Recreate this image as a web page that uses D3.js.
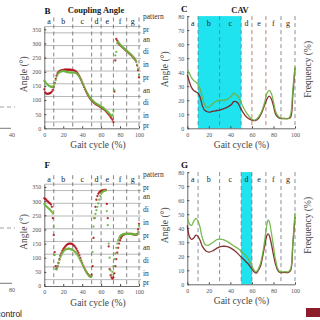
<!DOCTYPE html>
<html>
<head>
<meta charset="utf-8">
<script src="https://cdn.jsdelivr.net/npm/d3@7"></script>
<style>
  body { margin: 0; background: #fff; }
  svg text { font-family: "Liberation Serif", "DejaVu Serif", serif; }
</style>
</head>
<body>
<svg id="fig" width="320" height="320"></svg>
<script>
// gait phases and coupling-pattern bins
const phases = ["a", "b", "c", "d", "e", "f", "g"];
const phaseBounds = [0, 10, 30, 50, 60, 73, 87, 100];
const patternNames = ["pr", "in", "di", "an", "pr", "in", "di", "an", "pr"];
const patternBounds = [0, 22.5, 67.5, 112.5, 157.5, 202.5, 247.5, 292.5, 337.5, 360];
const gaitTicks = [0, 20, 40, 60, 80, 100];
const caTicks = [0, 50, 100, 150, 200, 250, 300, 350];
const cavTicks = [0, 10, 20, 30, 40, 50, 60, 70, 80];

// coupling angle, 0..100 % gait in 1 % steps
const caTopRed = [138,126,123,122,122,123,124,126,130,136,146,160,175,187,195,199,202,204,205,206,206,
  207,207,207,207,207,207,207,207,206,206,205,204,202,199,195,190,184,177,170,162,
  154,146,138,131,124,118,112,107,102,98,95,92,89,86,84,82,80,78,76,74,
  72,70,67,64,61,57,53,49,45,40,35,30,22,130,240,316,310,303,298,294,
  291,288,285,282,279,276,273,270,267,264,261,258,254,250,246,242,236,222,205,180];
const caTopGreen = [168,165,160,156,153,150,148,147,146,147,150,158,170,182,190,195,198,200,201,202,202,
  202,201,200,199,198,198,197,197,197,197,197,197,196,194,191,187,182,176,169,162,
  155,148,141,134,127,121,115,110,105,101,98,95,92,89,87,85,83,81,79,77,
  75,73,70,67,64,61,58,55,51,47,43,48,62,135,258,270,300,306,301,296,
  292,289,286,283,280,277,274,271,268,265,262,259,255,251,247,242,236,225,210,190];
const caBotRed = [310,308,305,301,298,295,292,288,280,240,180,120,70,62,70,82,95,107,116,124,130,
  135,139,143,146,148,150,150,150,149,147,144,141,136,131,124,117,108,99,90,81,
  72,65,58,52,47,42,38,35,33,40,70,170,240,280,305,318,326,331,334,336,
  337,338,339,340,340,290,240,140,60,38,30,26,30,45,70,95,118,135,150,162,
  170,176,180,182,183,184,184,184,184,184,184,184,183,183,182,181,181,183,200,220];
const caBotGreen = [290,285,282,279,276,273,270,266,262,256,210,110,60,58,68,80,92,102,110,116,121,
  125,128,130,131,132,132,131,130,129,127,125,122,119,115,110,104,97,91,85,78,
  71,64,58,52,47,42,38,34,32,35,120,210,240,255,268,280,292,305,318,326,
  331,334,336,337,338,265,215,150,100,55,40,50,70,95,115,135,150,162,170,176,
  179,181,183,184,184,184,184,184,184,184,184,184,184,183,183,182,182,182,190,215];

// CAV, degrees
const cavTopX = [0,2,4,6,8,10,12,14,16,18,20,23,26,30,34,38,41,43,45,47,49,52,55,58,61,63,66,69,72,74,76,78,80,82,84,86,90,94,96,98,100];
const cavTopGreen = [42,39,36,34,33,31,28,22,17,15,15,17,19,20,20,21,23,25,24,23,20,15,11,8,6,6,8,12,19,25,27,25,19,12,9,7.5,7,7,10,28,44];
const cavTopRed = [38,33,29,27,26,25,22,16,13,12,11.5,12,12.5,13,14,15.5,17,19,19,18,15,11,8,6.5,5.5,5.5,7,11,17,21,23,21,16,10,8,7,7,7,8,24,43];
const cavBotX = [0,2,4,6,8,10,12,14,17,20,24,28,32,36,40,44,48,52,56,58,60,62,64,66,68,70,72,74,75,76,78,80,82,84,86,90,94,96,98,100];
const cavBotGreen = [48,43,42,45,47,45,40,33,28,28,30,32,32,31,29,27,25,22,19,16,13,10,9,11,15,22,32,43,46,45,37,27,17,11,9,9,9,11,30,51];
const cavBotRed = [42,34,32,33,35,34,31,27,24,23,24,26,27,27,26,24,21,18,15,13,11,9,8,10,13,20,28,35,36,35,29,21,14,10,8.5,8.5,8.5,10,28,48];

const red = "#b3141c", green = "#6cb43f", maroon = "#7a1a1a", cyan = "#1fe4f0";
const svg = d3.select("#fig");
svg.append("rect").attr("width", 320).attr("height", 320).attr("fill", "#fff");

// left strip: edges of panels A and E
[[107, 128.3, "40", 8], [228, 283.3, "80", 9]].forEach(([dy, ay, lab, len]) => {
  svg.append("line").attr("x1", 0).attr("x2", 15).attr("y1", dy).attr("y2", dy)
    .attr("stroke", "#888").attr("stroke-dasharray", "4,3").attr("stroke-width", 0.8);
  svg.append("line").attr("x1", 0).attr("x2", len + 3).attr("y1", ay).attr("y2", ay)
    .attr("stroke", "#555").attr("stroke-width", 0.8);
  svg.append("text").attr("x", 12).attr("y", ay + 9).attr("text-anchor", "middle")
    .attr("font-size", 6).attr("fill", "#555").text(lab);
});
svg.append("text").attr("x", -3.5).attr("y", 317).attr("font-size", 8.5)
  .style("font-family", "'Liberation Sans', Arial, sans-serif").attr("fill", "#222").text("control");

function axes(g, x, y, yTicks, x0, y0) {
  g.append("g").attr("transform", `translate(0,${y0})`)
    .call(d3.axisBottom(x).tickValues(gaitTicks).tickSizeInner(-2).tickSizeOuter(0).tickPadding(4))
    .call(a => {
      a.select(".domain").attr("stroke", "#444").attr("stroke-width", 0.8);
      a.selectAll("line").attr("stroke", "#444");
      a.selectAll("text").attr("font-size", 6).attr("fill", "#555").style("font-family", "'Liberation Serif', serif");
    });
  g.append("g").attr("transform", `translate(${x0},0)`)
    .call(d3.axisLeft(y).tickValues(yTicks).tickSizeInner(-2).tickSizeOuter(0).tickPadding(3))
    .call(a => {
      a.select(".domain").attr("stroke", "#444").attr("stroke-width", 0.8);
      a.selectAll("line").attr("stroke", "#444");
      a.selectAll("text").attr("font-size", 6).attr("fill", "#555").style("font-family", "'Liberation Serif', serif");
    });
}

function phaseLines(g, x, top, bottom, labelY, colorOf) {
  g.selectAll("line.phase").data(phaseBounds.slice(1)).join("line")
    .attr("class", "phase")
    .attr("x1", d => x(d)).attr("x2", d => x(d))
    .attr("y1", top).attr("y2", bottom)
    .attr("stroke", d => colorOf(d)).attr("stroke-width", 0.8)
    .attr("stroke-dasharray", "4,3");
  g.selectAll("text.phase").data(phases).join("text")
    .attr("class", "phase")
    .attr("x", (d, i) => x((phaseBounds[i] + phaseBounds[i + 1]) / 2))
    .attr("y", labelY).attr("text-anchor", "middle")
    .attr("font-size", 8).attr("fill", "#222").text(d => d);
}

function labels(g, cx, axisY, yLabX, yLabY, letter, letterX, letterY, title, titleX) {
  g.append("text").attr("x", cx).attr("y", axisY + 20).attr("text-anchor", "middle")
    .attr("font-size", 9.5).attr("fill", "#444").text("Gait cycle (%)");
  g.append("text").attr("transform", `translate(${yLabX},${yLabY}) rotate(-90)`)
    .attr("text-anchor", "middle").attr("font-size", 9.5).attr("fill", "#444").text("Angle (°)");
  g.append("text").attr("x", letterX).attr("y", letterY).attr("font-size", 9)
    .attr("font-weight", "bold").attr("fill", "#111").text(letter);
  if (title) {
    g.append("text").attr("x", titleX).attr("y", 13).attr("text-anchor", "middle")
      .attr("font-size", 8.5).attr("font-weight", "bold").attr("fill", "#222").text(title);
  }
}

function couplingPanel(opt) {
  const g = svg.append("g");
  const x = d3.scaleLinear([0, 100], [44.3, 139]);
  const y = d3.scaleLinear([0, 360], [opt.y0, opt.y0 - 101.8]);
  // pattern bin lines
  g.selectAll("line.bin").data(patternBounds.slice(1)).join("line")
    .attr("class", "bin")
    .attr("x1", x(0)).attr("x2", x(100) + 2)
    .attr("y1", d => y(d)).attr("y2", d => y(d))
    .attr("stroke", "#9a9a9a").attr("stroke-width", 0.7);
  phaseLines(g, x, y(360) - 9, opt.y0, y(360) - 2.5, () => "#666");
  g.selectAll("text.bin").data(patternNames).join("text")
    .attr("class", "bin")
    .attr("x", x(100) + 4)
    .attr("y", (d, i) => y((patternBounds[i] + patternBounds[i + 1]) / 2) + 2.5)
    .attr("font-size", 7.5).attr("fill", "#333").text(d => d);
  g.append("text").attr("x", x(100) + 4).attr("y", y(360) - 7.5)
    .attr("font-size", 7.5).attr("fill", "#333").text("pattern");
  axes(g, x, y, caTicks, x(0), opt.y0);
  const pct = d3.range(opt.red.length);
  [[opt.red, red], [opt.green, green]].forEach(([vals, col]) => {
    g.append("g").selectAll("circle").data(pct).join("circle")
      .attr("cx", d => x(d)).attr("cy", d => y(vals[d]))
      .attr("r", 1.15).attr("fill", col).attr("opacity", 0.9);
  });
  labels(g, 98, opt.y0, 27, opt.y0 - 54, opt.letter, 44.5, opt.letterY, opt.title, 96);
}

function cavPanel(opt) {
  const g = svg.append("g");
  const x = d3.scaleLinear([0, 100], [187.3, 295]);
  const y = d3.scaleLinear([0, 80], [opt.y0, opt.y0 - 112.2]);
  g.append("rect").attr("x", x(opt.band[0])).attr("width", x(opt.band[1]) - x(opt.band[0]))
    .attr("y", y(80)).attr("height", y(0) - y(80)).attr("fill", cyan);
  phaseLines(g, x, y(80), opt.y0, y(80) + 9.5,
    d => (opt.brown && (d === 60 || d === 73)) ? "#a2664e" : "#6a7482");
  axes(g, x, y, cavTicks, x(0), opt.y0);
  const line = d3.line().x((d, i) => x(opt.x[i])).y(d => y(d)).curve(d3.curveCatmullRom);
  [[opt.red, maroon], [opt.green, green]].forEach(([vals, col]) => {
    g.append("path").datum(vals).attr("d", line)
      .attr("fill", "none").attr("stroke", col).attr("stroke-width", 1.3).attr("opacity", 0.9);
  });
  labels(g, 241.5, opt.y0, 168, opt.y0 - 59, opt.letter, 181, opt.letterY, opt.title, 240);
  g.append("text").attr("transform", `translate(311,${opt.y0 - 59}) rotate(-90)`)
    .attr("text-anchor", "middle").attr("font-size", 9.5).attr("fill", "#444").text("Frequency (%)");
}

couplingPanel({ y0: 128.3, red: caTopRed, green: caTopGreen, letter: "B", letterY: 14, title: "Coupling Angle" });
couplingPanel({ y0: 286, red: caBotRed, green: caBotGreen, letter: "F", letterY: 168 });
cavPanel({ y0: 128.3, x: cavTopX, red: cavTopRed, green: cavTopGreen, band: [10, 50], brown: true, letter: "C", letterY: 11.5, title: "CAV" });
cavPanel({ y0: 284.3, x: cavBotX, red: cavBotRed, green: cavBotGreen, band: [50, 60], letter: "G", letterY: 167.5 });

// legend swatch at the bottom edge
svg.append("rect").attr("x", 306).attr("y", 308).attr("width", 14).attr("height", 9).attr("fill", "#8c1c2c");
</script>
</body>
</html>
